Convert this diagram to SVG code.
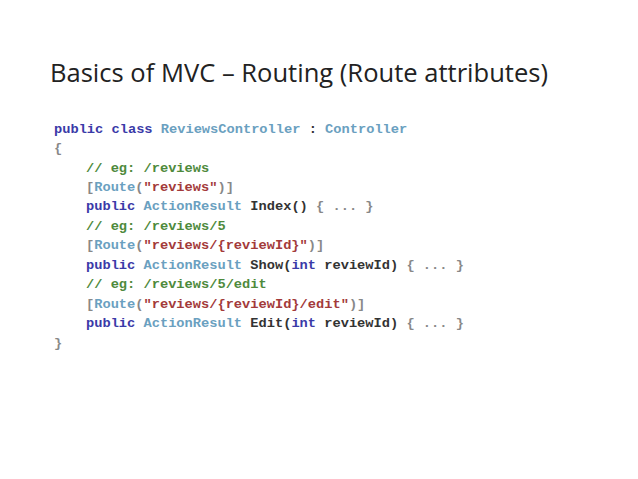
<svg xmlns="http://www.w3.org/2000/svg" width="638" height="479" viewBox="0 0 638 479">
<style>
.t{font-family:"Open Sans","Liberation Sans",sans-serif;font-size:25px;fill:#222}
.c{font-family:"Liberation Mono",monospace;font-size:13.7px;font-weight:bold;white-space:pre;fill:#333}
.k{fill:#3a3aa8}.ty{fill:#6aa0c0}.cm{fill:#4e8a3c}.s{fill:#a33a3a}.p{fill:#888}
</style>
<rect width="638" height="479" fill="#fff"/>
<text class="t" x="50" y="82" textLength="498" lengthAdjust="spacingAndGlyphs">Basics of MVC – Routing (Route attributes)</text>
<g id="code">
<text class="c" x="54" y="133"><tspan class="k">public class</tspan> <tspan class="ty">ReviewsController</tspan> : <tspan class="ty">Controller</tspan></text>
<text class="c" x="54" y="152"><tspan class="p">{</tspan></text>
<text class="c" x="86" y="172"><tspan class="cm">// eg: /reviews</tspan></text>
<text class="c" x="86" y="191"><tspan class="p">[</tspan><tspan class="ty">Route</tspan><tspan class="p">(</tspan><tspan class="s">"reviews"</tspan><tspan class="p">)]</tspan></text>
<text class="c" x="86" y="210"><tspan class="k">public</tspan> <tspan class="ty">ActionResult</tspan> Index() <tspan class="p">{ ... }</tspan></text>
<text class="c" x="86" y="230"><tspan class="cm">// eg: /reviews/5</tspan></text>
<text class="c" x="86" y="249"><tspan class="p">[</tspan><tspan class="ty">Route</tspan><tspan class="p">(</tspan><tspan class="s">"reviews/{reviewId}"</tspan><tspan class="p">)]</tspan></text>
<text class="c" x="86" y="269"><tspan class="k">public</tspan> <tspan class="ty">ActionResult</tspan> Show(<tspan class="k">int</tspan> reviewId) <tspan class="p">{ ... }</tspan></text>
<text class="c" x="86" y="288"><tspan class="cm">// eg: /reviews/5/edit</tspan></text>
<text class="c" x="86" y="308"><tspan class="p">[</tspan><tspan class="ty">Route</tspan><tspan class="p">(</tspan><tspan class="s">"reviews/{reviewId}/edit"</tspan><tspan class="p">)]</tspan></text>
<text class="c" x="86" y="327"><tspan class="k">public</tspan> <tspan class="ty">ActionResult</tspan> Edit(<tspan class="k">int</tspan> reviewId) <tspan class="p">{ ... }</tspan></text>
<text class="c" x="54" y="347"><tspan class="p">}</tspan></text>
</g>
</svg>
